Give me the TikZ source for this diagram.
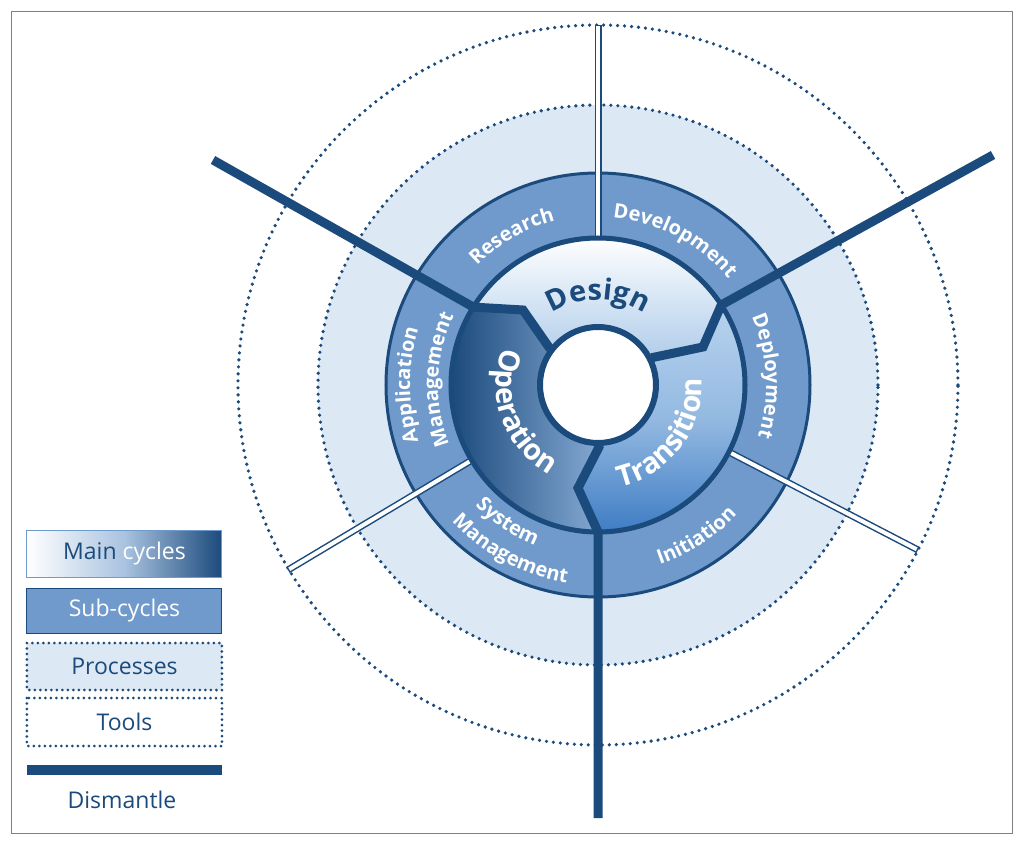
\documentclass[tikz,border=0pt]{standalone}
\usepackage{fontspec}
\setmainfont{Open Sans}
\usetikzlibrary{decorations.text}
\definecolor{navy}{HTML}{1B4A7C}
\definecolor{subc}{HTML}{6F9ACB}
\definecolor{proc}{HTML}{DDE8F5}
\definecolor{tlight}{HTML}{B8D3EE}
\definecolor{tdark}{HTML}{3F7DC4}
\newcommand\subf{\fontsize{20}{20}\selectfont\bfseries}
\newcommand\mainf{\fontsize{29}{29}\selectfont\bfseries}
\tikzset{
 dotline/.style={navy,line width=3.6pt,dash pattern=on 0pt off 7pt,line cap=round},
 dism/.style={navy,line width=9pt,line join=miter},
 arctext/.style={decorate,decoration={text along path,text align=center,text color=#1}},
 legtext/.style={font=\fontsize{23}{23}\selectfont,text=navy}
}
\begin{document}
\begin{tikzpicture}[x=1pt,y=1pt]
\useasboundingbox (-598,-458) rectangle (424,385);
\fill[white] (-598,-458) rectangle (424,385);
\draw[gray,line width=1pt] (-586,373) rectangle (414,-448);
% circles
\fill[white] (0,0) circle[radius=360];
\draw[dotline] (0,0) circle[radius=360];
\fill[proc] (0,0) circle[radius=280];
\draw[dotline] (0,0) circle[radius=280];
\fill[subc] (0,0) circle[radius=212];
\draw[navy,line width=3pt] (0,0) circle[radius=212];
% tools lines
\coordinate (t1a) at (90:360); \coordinate (t1b) at (90:147);
\coordinate (t2a) at (-310,-185); \coordinate (t2b) at (-126,-75);
\coordinate (t3a) at (320,-165); \coordinate (t3b) at (131,-67);
\foreach \p/\q in {t1a/t1b,t2a/t2b,t3a/t3b}{
 \draw[navy,line width=7pt] (\p)--(\q); \draw[white,line width=4pt,shorten <=1.5pt] (\p)--(\q);}
% main ring
\fill[navy] (0,0) circle[radius=149];
\coordinate (ulo) at (148:147); \coordinate (ulm) at (-75,75); \coordinate (uli) at (143:60);
\coordinate (ro) at (33:147); \coordinate (rm) at (105,38); \coordinate (ri) at (27:60);
\coordinate (bo) at (270:147); \coordinate (bm) at (-20,-103); \coordinate (bi) at (272:60);
\shade[shading angle=-135,top color=white,bottom color=tlight!90!subc]
  (ulo) arc[start angle=148,end angle=33,radius=147] -- (rm) -- (ri)
  arc[start angle=27,end angle=143,radius=60] -- (ulm) -- cycle;
\shade[shading angle=-130,top color=tlight,bottom color=tdark,middle color=tlight!70!tdark]
  (ro) arc[start angle=33,end angle=-90,radius=147] -- (bm) -- (bi)
  arc[start angle=272,end angle=387,radius=60] -- (rm) -- cycle;
\shade[shading angle=-60,left color=navy,right color=subc!85]
  (bo) arc[start angle=270,end angle=148,radius=147] -- (ulm) -- (uli)
  arc[start angle=143,end angle=272,radius=60] -- (bm) -- cycle;
\draw[navy,line width=5pt] (0,0) circle[radius=147];
\fill[white] (0,0) circle[radius=58];
\draw[navy,line width=6pt] (0,0) circle[radius=58];
% dismantle
\coordinate (d1) at (-385,225); \coordinate (d2) at (395,230); \coordinate (d3) at (0,-433);
\draw[dism] (d1) -- (ulo) -- (ulm) -- (uli);
\draw[dism] (d2) -- (ro) -- (rm) -- (ri);
\draw[dism] (d3) -- (bo) -- (bm) -- (bi);
% sub-cycle labels
\path[arctext=white,decoration={text={|\subf|Research}}] (160:170) arc[start angle=160,end angle=80,radius=170];
\path[arctext=white,decoration={text={|\subf|Development}}] (108:168) arc[start angle=108,end angle=16,radius=168];
\path[arctext=white,decoration={text={|\subf|Deployment}}] (48:168) arc[start angle=48,end angle=-42,radius=168];
\path[arctext=white,decoration={text={|\subf|Initiation}}] (-100:190) arc[start angle=-100,end angle=-14,radius=190];
\path[arctext=white,decoration={text={|\subf|System}}] (-165:172) arc[start angle=-165,end angle=-82,radius=172];
\path[arctext=white,decoration={text={|\subf|Management}}] (-163:200) arc[start angle=-163,end angle=-73,radius=200];
\path[arctext=white,decoration={text={|\subf|Application}}] (225:188) arc[start angle=225,end angle=135,radius=188];
\path[arctext=white,decoration={text={|\subf|Management}}] (228:160) arc[start angle=228,end angle=128,radius=160];
% main labels
\path[arctext=navy,decoration={text={|\mainf|Design}}] (140:85) arc[start angle=140,end angle=40,radius=85];
\path[arctext=white,decoration={text={|\mainf|Operation}}] (125:102) arc[start angle=125,end angle=275,radius=102];
\path[arctext=white,decoration={text={|\mainf|Transition}}] (-110:104) arc[start angle=-110,end angle=36,radius=104];
% legend
\shade[left color=white,right color=navy,middle color=subc!60] (-571,-145) rectangle (-376,-192);
\draw[subc,line width=1pt] (-571,-145) rectangle (-376,-192);
\node[legtext] (lmain) at (-473.5,-168.5) {Main \textcolor{white}{cycles}};
\draw[navy,fill=subc,line width=1pt] (-571,-203) rectangle (-376,-248);
\node[legtext,text=white] (lsub) at (-473.5,-225.5) {Sub-cycles};
\fill[proc] (-571,-258) rectangle (-376,-305);
\draw[dotline,line width=3pt,dash pattern=on 0pt off 5.5pt] (-571,-258) rectangle (-376,-305);
\node[legtext] (lproc) at (-473.5,-281.5) {Processes};
\draw[dotline,line width=3pt,dash pattern=on 0pt off 5.5pt] (-571,-313) rectangle (-376,-361);
\node[legtext] (ltool) at (-473.5,-337) {Tools};
\fill[navy] (-571,-380) rectangle (-376,-390);
\node[legtext] (ldis) at (-476,-415) {Dismantle};
\end{tikzpicture}
\end{document}
